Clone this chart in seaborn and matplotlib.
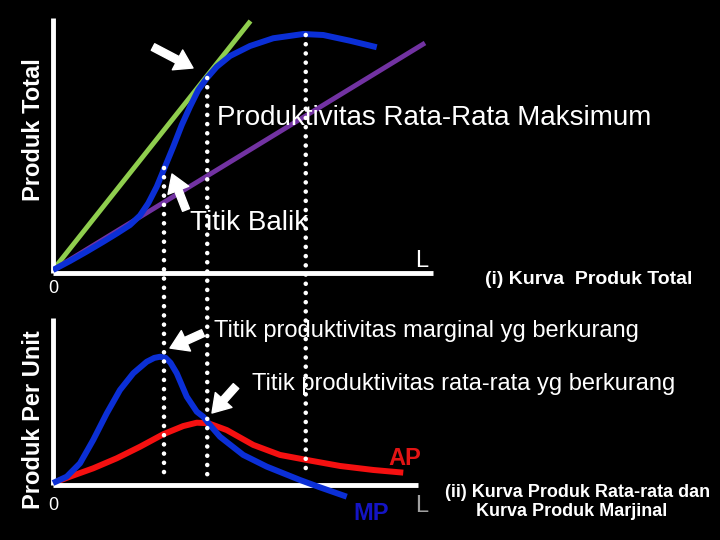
import numpy as np
import matplotlib
matplotlib.use("Agg")
import matplotlib.pyplot as plt
import seaborn as sns
from matplotlib.patches import ConnectionPatch

sns.set_theme(style="dark")
plt.rcParams['font.family'] = ['Liberation Sans', 'DejaVu Sans']

# ---- data (labour L vs products) ----
tp_L = [0, 0.68, 1.35, 2.01, 2.55, 3.08, 3.48, 3.81, 4.15, 4.48, 4.81, 5.15, 5.48, 5.81,
        6.15, 6.55, 7.08, 7.88, 8.81, 10.01, 10.81, 11.88, 12.95]
tp_val = [0, 3.6, 7.4, 11.3, 14.6, 18.0, 21.8, 26.7, 33.3, 41.3, 49.3, 58.0, 65.3, 72.0,
          76.7, 81.3, 85.6, 89.6, 92.7, 94.4, 94.0, 91.7, 89.1]

tangent_L = [0, 7.9]
tangent_val = [0, 99.6]
ray_L = [0, 14.88]
ray_val = [0, 90.8]

mp_L = [0, 0.55, 1.08, 1.61, 2.15, 2.68, 3.21, 3.75, 4.05, 4.28, 4.50, 4.70, 4.95, 5.35,
        5.75, 6.01, 6.28, 6.68, 7.61, 8.55, 9.88, 10.68, 11.75]
mp_val = [0, 3.8, 11.8, 25.8, 41.7, 55.7, 65.7, 72.6, 74.9, 75.6, 75.0, 72.0, 65.7, 51.7,
          42.7, 39.7, 34.7, 27.7, 16.8, 9.8, 1.8, -2.6, -8.2]

ap_L = [0, 0.68, 1.61, 2.55, 3.48, 4.41, 5.21, 5.75, 6.21, 6.95, 8.01, 9.08, 10.15,
        11.48, 12.81, 14.01]
ap_val = [0, 3.8, 8.8, 14.8, 21.7, 29.2, 34.1, 36.1, 35.8, 31.7, 22.8, 16.8, 13.8,
          10.2, 7.8, 6.2]

dotted_L = [4.44, 6.17, 10.11]
dotted_top = [40.8, 76.8, 94.0]
dotted_bottom = 3.6

BLUE = "#0b2fd6"
GREEN = "#8fce4e"
PURPLE = "#7232a2"
RED = "#f51010"

W, H = 720, 540
fig = plt.figure(figsize=(7.2, 5.4), dpi=100, facecolor="black")

def box(x0, x1, ytop, ybot):
    return [x0 / W, 1 - ybot / H, (x1 - x0) / W, (ybot - ytop) / H]

ax1 = fig.add_axes(box(53, 433, 18, 273))
ax2 = fig.add_axes(box(53, 418, 318, 485))

for ax in (ax1, ax2):
    ax.set_facecolor("black")
    ax.grid(False)
    for s in ("top", "right"):
        ax.spines[s].set_visible(False)
    for s in ("left", "bottom"):
        ax.spines[s].set_color("white")
        ax.spines[s].set_linewidth(3.5)
        ax.spines[s].set_capstyle("butt")
    ax.set_xticks([])
    ax.set_yticks([])

ax1.set_xlim(0, 15.2)
ax1.set_ylim(-1.2, 100.8)
ax2.set_xlim(0, 14.6)
ax2.set_ylim(-1.2, 98.8)

line_kw = dict(estimator=None, sort=False, solid_capstyle="butt", solid_joinstyle="round")

# top panel
sns.lineplot(x=tangent_L, y=tangent_val, ax=ax1, color=GREEN, linewidth=3.5, zorder=2, **line_kw)
sns.lineplot(x=ray_L, y=ray_val, ax=ax1, color=PURPLE, linewidth=3.5, zorder=2, **line_kw)
sns.lineplot(x=tp_L, y=tp_val, ax=ax1, color=BLUE, linewidth=4.3, zorder=3, **line_kw)

# bottom panel
sns.lineplot(x=ap_L, y=ap_val, ax=ax2, color=RED, linewidth=4.3, zorder=2, **line_kw)
sns.lineplot(x=mp_L, y=mp_val, ax=ax2, color=BLUE, linewidth=4.3, zorder=3,
             clip_on=False, **line_kw)
for ax in (ax1, ax2):
    ax.set_xlabel("")
    ax.set_ylabel("")
    if ax.get_legend():
        ax.get_legend().remove()

# dotted verticals across both panels
for L, top in zip(dotted_L, dotted_top):
    con = ConnectionPatch(xyA=(L, top), coordsA=ax1.transData,
                          xyB=(L, dotted_bottom), coordsB=ax2.transData,
                          color="white", linewidth=3.3, linestyle=(0, (0.01, 2.0)),
                          capstyle="round", zorder=1)
    fig.add_artist(con)

# arrows
arrow_kw = dict(arrowstyle="simple,head_length=0.9,head_width=1.15,tail_width=0.38",
                color="white", mutation_scale=14, shrinkA=0, shrinkB=0)
ax1.annotate("", xy=(5.6, 80.8), xytext=(-28.8, 15.1), textcoords="offset points",
             arrowprops=arrow_kw, annotation_clip=False)
ax1.annotate("", xy=(4.76, 38.4), xytext=(10.1, -25.9), textcoords="offset points",
             arrowprops=arrow_kw, annotation_clip=False)
ax2.annotate("", xy=(4.68, 80.8), xytext=(23.8, 10.8), textcoords="offset points",
             arrowprops=arrow_kw, annotation_clip=False)
ax2.annotate("", xy=(6.36, 41.9), xytext=(17.3, 19.4), textcoords="offset points",
             arrowprops=arrow_kw, annotation_clip=False)

def ftext(x, y, s, **kw):
    fig.text(x / W, 1 - y / H, s, **kw)

ftext(34, 130, "Produk Total", rotation=90, ha="center", va="center",
      color="white", fontsize=17, fontweight="bold")
ftext(34, 420, "Produk Per Unit", rotation=90, ha="center", va="center",
      color="white", fontsize=17, fontweight="bold")
ftext(217, 125, "Produktivitas Rata-Rata Maksimum", color="white", fontsize=20, va="baseline")
ftext(190, 230, "Titik Balik", color="white", fontsize=20, va="baseline")
ftext(415, 267, "L", color="white", fontsize=17, va="baseline")
ftext(48, 293, "0", color="white", fontsize=13, va="baseline")
ftext(48, 510, "0", color="white", fontsize=13, va="baseline")
ftext(485, 284, "(i) Kurva  Produk Total", color="white", fontsize=14,
      fontweight="bold", va="baseline")
ftext(214, 337, "Titik produktivitas marginal yg berkurang", color="white",
      fontsize=17, va="baseline")
ftext(252, 390, "Titik produktivitas rata-rata yg berkurang", color="white",
      fontsize=17, va="baseline")
ftext(388, 465, "AP", color="#e31414", fontsize=17, fontweight="bold", va="baseline")
ftext(353, 520, "MP", color="#1414c4", fontsize=17, fontweight="bold", va="baseline")
ftext(415, 512, "L", color="#a0a0a0", fontsize=17, va="baseline")
ftext(578, 497, "(ii) Kurva Produk Rata-rata dan", color="white", fontsize=13,
      fontweight="bold", ha="center", va="baseline")
ftext(572, 516, "Kurva Produk Marjinal", color="white", fontsize=13,
      fontweight="bold", ha="center", va="baseline")

fig.savefig("out.png", dpi=100, facecolor="black")
